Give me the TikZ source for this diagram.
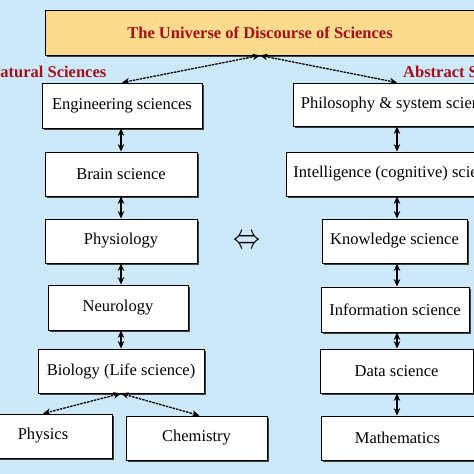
\documentclass[tikz,border=0pt]{standalone}
\usepackage{fontspec}
\setmainfont{Liberation Serif}
\usetikzlibrary{arrows.meta,shadows}
\definecolor{bgblue}{HTML}{CDE8F9}
\definecolor{titlefill}{HTML}{FCDA8E}
\definecolor{darkred}{HTML}{A3101A}
\begin{document}
\begin{tikzpicture}[x=1pt,y=-1pt,
  >={Stealth[length=7.5pt,width=6.5pt]},
  sbox/.style={draw=black, line width=0.9pt, fill=white, inner sep=0pt,
    minimum height=44pt, font=\fontsize{16.5}{18}\selectfont,
    drop shadow={shadow xshift=2pt,shadow yshift=-2pt,fill=black!75,opacity=1}},
  titlebox/.style={sbox, fill=titlefill, minimum height=45pt,
    font=\fontsize{16.5}{18}\selectfont\bfseries, text=darkred},
  grouplabel/.style={font=\fontsize{16.5}{18}\selectfont\bfseries, text=darkred, inner sep=0pt},
  vlink/.style={<->, line width=1.3pt},
  dlink/.style={<->, line width=1.3pt, dash pattern=on 2.5pt off 1pt}]
\useasboundingbox (0,0) rectangle (474,474);
\clip (0,0) rectangle (474,474);
\fill[bgblue] (0,0) rectangle (474,474);

\node[titlebox, minimum width=430pt] (top) at (260,32.5) {The Universe of Discourse of Sciences};

\node[grouplabel, anchor=base east] (natlab) at (106.5,77.5) {Natural Sciences};
\node[grouplabel, anchor=base west] (abslab) at (403,77.5) {Abstract Sciences};

% left column
\node[sbox, minimum width=160pt, minimum height=45pt] (eng) at (122,105.5) {Engineering sciences};
\node[sbox, minimum width=152pt] (brain) at (121,174) {Brain science};
\node[sbox, minimum width=152pt] (physio) at (121,241) {Physiology};
\node[sbox, minimum width=140pt, minimum height=45pt] (neuro) at (118,307.5) {Neurology};
\node[sbox, minimum width=166pt] (bio) at (121,371) {Biology (Life science)};
\node[sbox, minimum width=138pt] (physics) at (43,436) {Physics};
\node[sbox, minimum width=141pt] (chem) at (196.5,438) {Chemistry};

% right column
\node[sbox, minimum width=216pt, minimum height=43pt] (philo) at (401,104.5) {Philosophy \& system sciences};
\node[sbox, minimum width=222pt] (intel) at (397,174) {Intelligence (cognitive) science};
\node[sbox, minimum width=145pt] (know) at (394.5,241) {Knowledge science};
\node[sbox, minimum width=148pt, minimum height=45pt] (info) at (395,309.5) {Information science};
\node[sbox, minimum width=153pt] (data) at (396.5,371) {Data science};
\node[sbox, minimum width=153pt] (math) at (397.5,438) {Mathematics};

\node (equiv) at (247,242) {\resizebox{27pt}{13pt}{$\Leftrightarrow$}};

% connectors
\draw[dlink] (top.south) -- (eng.north);
\draw[dlink] (top.south) -- (intel.north |- philo.north);

\draw[vlink] (brain.north |- eng.south) -- (brain.north);
\draw[vlink] (brain.south) -- (physio.north);
\draw[vlink] (physio.south) -- (physio.south |- neuro.north);
\draw[vlink] (physio.south |- neuro.south) -- (bio.north);
\draw[dlink] (bio.south) -- (physics.north);
\draw[dlink] (bio.south) -- ([xshift=3pt]chem.north);

\draw[vlink] (intel.north |- philo.south) -- (intel.north);
\draw[vlink] (intel.south) -- (intel.south |- know.north);
\draw[vlink] (intel.south |- know.south) -- (intel.south |- info.north);
\draw[vlink] (intel.south |- info.south) -- (intel.south |- data.north);
\draw[vlink] (intel.south |- data.south) -- (intel.south |- math.north);
\end{tikzpicture}
\end{document}
